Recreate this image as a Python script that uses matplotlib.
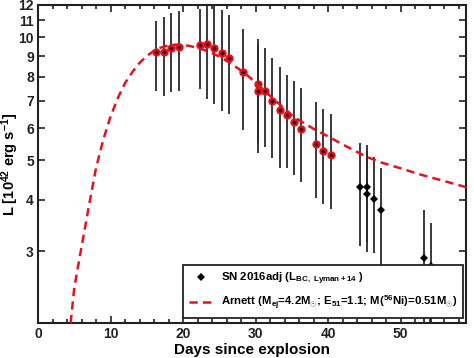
import matplotlib
matplotlib.use("Agg")
import matplotlib.pyplot as plt
from matplotlib.ticker import FixedLocator, MultipleLocator, NullLocator, FixedFormatter

plt.rcParams['font.family'] = ['Liberation Sans', 'DejaVu Sans']
plt.rcParams['font.weight'] = 'bold'
plt.rcParams['mathtext.fontset'] = 'custom'
plt.rcParams['mathtext.rm'] = 'Liberation Sans:bold'
plt.rcParams['mathtext.it'] = 'Liberation Sans:bold'
plt.rcParams['mathtext.bf'] = 'Liberation Sans:bold'

# Observed bolometric light curve (fitted part, red)
days_fit = [16.3, 17.4, 18.4, 19.4, 22.3, 23.3, 24.3, 25.3, 26.3, 28.3, 30.3, 30.3,
            31.3, 32.3, 33.3, 34.3, 35.3, 36.3, 38.3, 39.3, 40.4]
lum_fit = [9.19, 9.19, 9.40, 9.49, 9.59, 9.63, 9.40, 9.14, 8.92, 8.21, 7.71, 7.41,
           7.39, 6.99, 6.64, 6.44, 6.21, 5.96, 5.49, 5.28, 5.15]
err_fit = [1.79, 2.02, 2.07, 2.10, 2.11, 2.58, 2.53, 2.52, 2.42, 2.27, 2.2, 2.2,
           2.01, 1.92, 1.84, 1.66, 1.60, 1.54, 1.45, 1.38, 1.34]

# Observed late points (black)
days_late = [44.4, 45.3, 45.3, 46.3, 47.3, 53.2, 54.2]
lum_late = [4.30, 4.30, 4.13, 4.03, 3.78, 2.89, 2.76]
err_late = [1.21, 1.14, 1.14, 1.07, 1.02, 0.89, 0.75]

# Arnett model curve
arn_days = [4.5, 5, 6, 7, 8, 9, 10, 11, 12, 13, 14, 15, 16, 17, 18, 19, 20, 21, 22,
            23, 24, 25, 26, 27, 28, 29, 30, 31, 32, 33, 34, 35, 36, 38, 40, 42,
            45, 47, 50, 53, 56, 59]
arn_lum = [2.0, 2.44, 3.07, 3.85, 4.79, 5.62, 6.40, 7.10, 7.73, 8.22, 8.66, 9.00,
           9.28, 9.45, 9.56, 9.60, 9.58, 9.52, 9.42, 9.30, 9.15, 8.97, 8.76, 8.53,
           8.29, 8.03, 7.75, 7.47, 7.19, 6.93, 6.69, 6.45, 6.27, 5.97, 5.72, 5.47,
           5.13, 4.96, 4.78, 4.60, 4.45, 4.30]

yticks = [3, 4, 5, 6, 7, 8, 9, 10, 11, 12]
ytick_labels = [str(v) for v in yticks]

fig = plt.figure(figsize=(4.74, 3.58), dpi=100)
ax = fig.add_axes([38/474, 35/358, 428/474, 318/358])

red = '#e3121f'
ebc = '#2a2a2a'

ax.errorbar(days_fit, lum_fit, yerr=err_fit, fmt='none', ecolor=ebc, elinewidth=1.3,
            capsize=0, zorder=2)
ax.errorbar(days_late, lum_late, yerr=err_late, fmt='none', ecolor=ebc, elinewidth=1.3,
            capsize=0, zorder=2)
ax.plot(days_fit, lum_fit, 'o', color=red, ms=5.0, mec=red, zorder=3)
ax.plot(days_fit, lum_fit, 'D', color='#300000', ms=2.3, mew=0, zorder=4)
h1, = ax.plot(days_late, lum_late, 'D', color='black', ms=4.5, mew=0, zorder=4,
              label='SN 2016adj (L$_{\\mathrm{BC,\\ Lyman+14}}$ )')
h2, = ax.plot(arn_days, arn_lum, '--', color=red, lw=1.8, dashes=(3.3, 2.1), zorder=5,
              label='Arnett (M$_{\\mathrm{ej}}$=4.2M$_{\\odot}$; E$_{51}$=1.1; M($^{56}$Ni)=0.51M$_{\\odot}$)')

ax.set_yscale('log')
ax.set_xlim(0, 59)
ax.set_ylim(2, 12)
ax.yaxis.set_major_locator(FixedLocator(yticks))
ax.yaxis.set_major_formatter(FixedFormatter(ytick_labels))
ax.yaxis.set_minor_locator(NullLocator())
ax.xaxis.set_major_locator(MultipleLocator(10))
ax.xaxis.set_minor_locator(MultipleLocator(2))

ax.tick_params(which='both', direction='in', top=True, right=True, width=1.2,
               labelsize=10, colors='#222222', pad=3)
ax.tick_params(which='major', length=5)
ax.tick_params(which='minor', length=3)
for lab in ax.get_xticklabels() + ax.get_yticklabels():
    lab.set_fontweight('bold')
for s in ax.spines.values():
    s.set_linewidth(1.5)
    s.set_color('#222222')

ax.set_xlabel('Days since explosion', fontsize=11, fontweight='bold', labelpad=1)
ax.set_ylabel('L [10$^{42}$ erg s$^{-1}$]', fontsize=10.5, fontweight='bold')
ax.yaxis.set_label_coords(-0.04, 0.5)

leg = ax.legend(handles=[h1, h2], loc='lower right', bbox_to_anchor=(0.992, 0.016),
                borderaxespad=0, frameon=True, fancybox=False,
                handlelength=2.2, handletextpad=0.6, borderpad=0.5, labelspacing=0.6,
                prop={'weight': 'bold', 'size': 8.2})
leg.get_frame().set_edgecolor('#222222')
leg.get_frame().set_linewidth(1.3)
leg.get_frame().set_alpha(1)

fig.savefig('out.png', dpi=100)
